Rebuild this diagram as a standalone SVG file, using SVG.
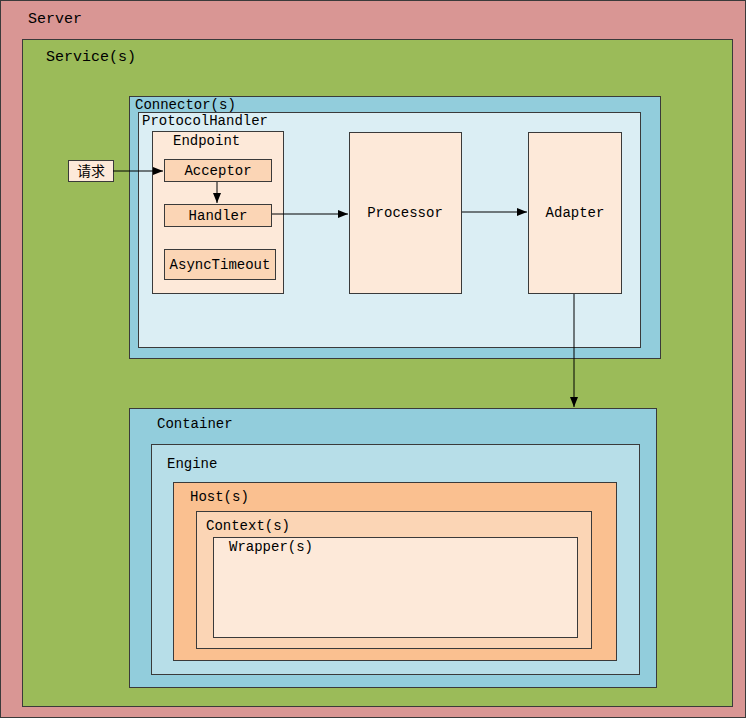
<svg xmlns="http://www.w3.org/2000/svg" width="747" height="719" viewBox="0 0 747 719">
<style>
rect{stroke:#3a3a3a;stroke-width:1}
text{font-family:"Liberation Mono","Noto Sans CJK SC",monospace;font-size:14px;fill:#000}
.c{text-anchor:middle}
.b{font-size:15px}
.l{stroke:#000;stroke-width:1;fill:none}
</style>
<defs><marker id="a" markerWidth="10" markerHeight="8" refX="10" refY="4" orient="auto" markerUnits="userSpaceOnUse"><path d="M0,0L10,4L0,8z" fill="#000"/></marker></defs>
<g id="server"><rect x="0.5" y="0.5" width="745" height="717" fill="#d99694"/><text class="b" x="28" y="23">Server</text></g>
<g id="service"><rect x="22.5" y="39.5" width="710" height="667" fill="#9bbb59"/><text class="b" x="46" y="61">Service(s)</text></g>
<g id="connector"><rect x="129.5" y="96.5" width="531" height="262" fill="#92cddc"/><text x="135" y="109">Connector(s)</text></g>
<g id="protocolhandler"><rect x="138.5" y="112.5" width="502" height="235" fill="#dbeef4"/><text x="142" y="125">ProtocolHandler</text></g>
<g id="endpoint"><rect x="152.5" y="131.5" width="131" height="162" fill="#fde9d9"/><text x="173" y="145">Endpoint</text></g>
<g id="acceptor"><rect x="164.5" y="159.5" width="107" height="22" fill="#fbd5b5"/><text class="c" x="218" y="175">Acceptor</text></g>
<g id="handler"><rect x="164.5" y="204.5" width="107" height="22" fill="#fbd5b5"/><text class="c" x="218" y="220">Handler</text></g>
<g id="asynctimeout"><rect x="164.5" y="249.5" width="111" height="30" fill="#fbd5b5"/><text class="c" x="220" y="269">AsyncTimeout</text></g>
<g id="processor"><rect x="349.5" y="132.5" width="112" height="161" fill="#fde9d9"/><text class="c" x="405" y="217">Processor</text></g>
<g id="adapter"><rect x="528.5" y="132.5" width="93" height="161" fill="#fde9d9"/><text class="c" x="575" y="217">Adapter</text></g>
<g id="request"><rect x="68.5" y="160.5" width="45" height="21" fill="#fde9d9"/><text class="c" x="91" y="176" style="font-size:14px">请求</text></g>
<g id="container"><rect x="129.5" y="408.5" width="527" height="279" fill="#92cddc"/><text x="157" y="428">Container</text></g>
<g id="engine"><rect x="151.5" y="444.5" width="488" height="230" fill="#b7dee8"/><text x="167" y="468">Engine</text></g>
<g id="host"><rect x="173.5" y="482.5" width="443" height="178" fill="#fac090"/><text x="190" y="501">Host(s)</text></g>
<g id="context"><rect x="196.5" y="511.5" width="395" height="137" fill="#fbd5b5"/><text x="206" y="530">Context(s)</text></g>
<g id="wrapper"><rect x="213.5" y="537.5" width="364" height="100" fill="#fde9d9"/><text x="229" y="551">Wrapper(s)</text></g>
<g id="connectors">
<path class="l" d="M113,171H163" marker-end="url(#a)"/>
<path class="l" d="M217,182V203" marker-end="url(#a)"/>
<path class="l" d="M272,214H348" marker-end="url(#a)"/>
<path class="l" d="M462,212H527" marker-end="url(#a)"/>
<path class="l" d="M574,294V407" marker-end="url(#a)"/>
</g>
</svg>
